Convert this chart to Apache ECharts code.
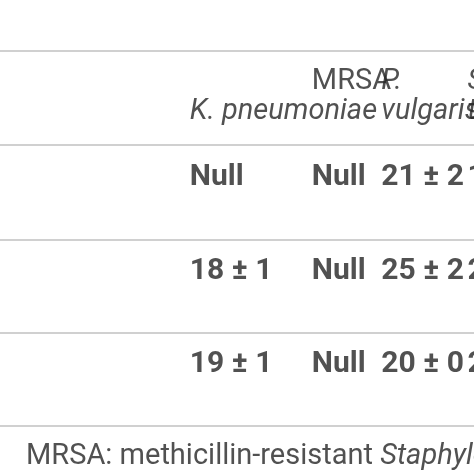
<!DOCTYPE html>
<html><head><meta charset="utf-8">
<script src="https://cdn.jsdelivr.net/npm/echarts@6/dist/echarts.min.js"></script>
<style>html,body{margin:0;padding:0;background:#fff}#c{width:474px;height:474px}</style>
</head><body><div id="c"></div>
<script>
// data
const headers = [["K. pneumoniae", true], ["MRSA", false], ["P.|vulgaris", true], ["S.|typhi", true]];
const colKP = ["Null", "18 ± 1", "19 ± 1"];
const colMRSA = ["Null", "Null", "Null"];
const colPV = ["21 ± 2", "25 ± 2", "20 ± 0"];
const colST = ["18 ± 1", "22 ± 1", "23 ± 2"];
const footnote = "MRSA: methicillin-resistant Staphylococcus aureus, Null: no activity";

// layout
const colX = [-50, 175, 303, 462];
const rowY = [177, 271, 364];
const ruleY = [51, 145, 240, 333, 426];
const columns = [colKP, colMRSA, colPV, colST];
const txt = '#262626';

const series = [];
const cellData = [];
columns.forEach((col, ci) => col.forEach((v, ri) => cellData.push({value: [colX[ci], rowY[ri]], name: v})));
series.push({
  type: 'scatter', symbolSize: 0, data: cellData, silent: true, clip: false,
  label: {show: true, position: 'right', distance: 0, formatter: p => p.name,
    fontFamily: 'Roboto', fontSize: 30, fontWeight: 'bold', color: txt, align: 'left', verticalAlign: 'middle'},
  markLine: {silent: true, symbol: 'none', label: {show: false},
    lineStyle: {color: '#d0d0d0', width: 2, type: 'solid'},
    data: ruleY.map(y => ({yAxis: y}))}
});
const headData = [];
headers.forEach((h, ci) => {
  const parts = h[0].split('|');
  if (parts.length === 1) headData.push({value: [colX[ci], ci === 0 ? 112 : 82], name: parts[0], it: h[1]});
  else { headData.push({value: [colX[ci], 82], name: parts[0], it: h[1]}); headData.push({value: [colX[ci], 112], name: parts[1], it: h[1]}); }
});
series.push({
  type: 'scatter', symbolSize: 0, silent: true, clip: false,
  data: headData.map(d => ({value: d.value, name: d.name, label: {fontStyle: d.it ? 'italic' : 'normal'}})),
  label: {show: true, position: 'right', distance: 0, formatter: p => p.name,
    fontFamily: 'Roboto', fontSize: 29, color: txt, align: 'left', verticalAlign: 'middle'}
});
const fParts = footnote.split('Staphylococcus aureus');
series.push({
  type: 'scatter', symbolSize: 0, silent: true, clip: false,
  data: [{value: [-352, 457], name: 'foot'}],
  label: {show: true, position: 'right', distance: 0, align: 'left', verticalAlign: 'middle',
    formatter: '{n|' + fParts[0] + '}{i|Staphylococcus aureus}{n|' + fParts[1] + '}',
    rich: {n: {fontFamily: 'Roboto', fontSize: 29, color: txt},
           i: {fontFamily: 'Roboto', fontSize: 29, color: txt, fontStyle: 'italic'}}}
});

const chart = echarts.init(document.getElementById('c'), null, {renderer: 'canvas'});
chart.setOption({
  animation: false,
  grid: {left: -400, right: 0, top: 0, bottom: 0},
  xAxis: {type: 'value', min: -400, max: 474, show: false},
  yAxis: {type: 'value', min: 0, max: 474, inverse: true, show: false},
  series: series
});
</script></body></html>
